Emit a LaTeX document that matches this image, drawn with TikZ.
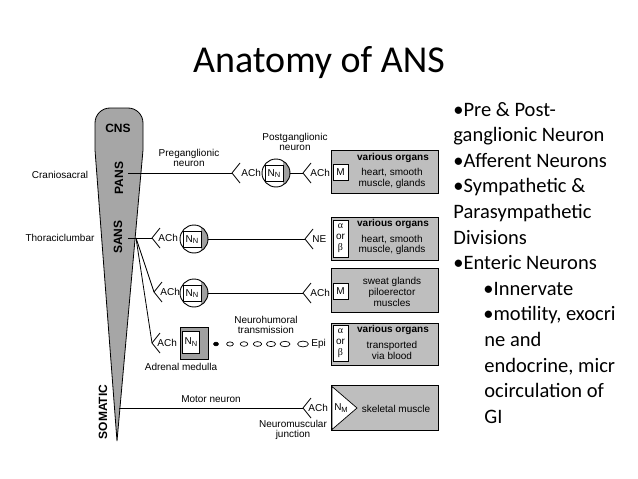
\documentclass[tikz,border=0pt]{standalone}
\usepackage{fontspec}
\setmainfont{Liberation Sans}
\newfontfamily\calfont{Carlito}
\newfontfamily\grkfont{Liberation Serif}
\definecolor{colgray}{RGB}{166,166,166}
\definecolor{boxgray}{RGB}{190,190,190}
\definecolor{gangray}{RGB}{160,160,160}
\newcommand\subN[1]{N\raisebox{-1.6pt}{\fontsize{7.5}{7.5}\selectfont #1}}
\newcommand\gangdraw[3]{% name, x, y
  \coordinate (#1) at (#2,#3);
  \fill[gangray] (#2,#3) ellipse (14 and 14);
  \begin{scope}
    \clip (#2,#3) ellipse (14 and 14);
    \fill[white] (#2-15,#3-15) rectangle (#2+7,#3+15);
  \end{scope}
  \draw[line width=0.7pt] (#2-11,#3-8) rectangle (#2+7,#3+8);
  \draw[line width=0.9pt] (#2,#3) ellipse (14 and 14);
  \coordinate (#1e) at (#2+14,#3);
  \node[inner sep=0pt,font=\fontsize{10}{10}\selectfont] (#1n) at (#2-2,#3+0.5) {\subN{N}};
}
\begin{document}
\begin{tikzpicture}[x=1pt,y=-1pt,line width=0.8pt,
  lab/.style={font=\fontsize{10}{10.8}\selectfont,inner sep=0pt,align=center},
  collab/.style={font=\bfseries\fontsize{12}{12}\selectfont,inner sep=0pt},
  organ/.style={draw,fill=boxgray,line width=0.9pt,inner sep=0pt,minimum width=107pt,anchor=north west},
  rcp/.style={draw,fill=white,line width=0.7pt,inner sep=0pt,minimum width=15pt,align=center,font=\fontsize{10}{11}\selectfont},
  bul/.style={font=\calfont\fontsize{20.5}{20.5}\selectfont,anchor=base west,inner sep=0pt},
  fork/.pic={\draw (0,0) -- (8,-10) (0,0) -- (8,10);}]
\useasboundingbox (0,0) rectangle (638,479);

% title
\node[font=\calfont\fontsize{38}{38}\selectfont,anchor=base,inner sep=0pt] (title) at (319,72) {Anatomy of ANS};

% right text
\node[bul] (t0) at (453,116) {•Pre \& Post-};
\node[bul] (t1) at (453,141.6) {ganglionic Neuron};
\node[bul] (t2) at (453,167.2) {•Afferent Neurons};
\node[bul] (t3) at (453,192.8) {•Sympathetic \&};
\node[bul] (t4) at (453,218.4) {Parasympathetic};
\node[bul] (t5) at (453,244) {Divisions};
\node[bul] (t6) at (453,269.6) {•Enteric Neurons};
\node[bul] (t7) at (483,295.2) {•Innervate};
\node[bul] (t8) at (483,320.8) {•motility, exocri};
\node[bul] (t9) at (484,346.4) {ne and};
\node[bul] (t10) at (484,372) {endocrine, micr};
\node[bul] (t11) at (484,397.6) {ocirculation of};
\node[bul] (t12) at (484,423.2) {GI};

% CNS column
\draw[fill=colgray] (117,441) -- (95,150) -- (95,123) to[out=90,in=180] (110,108) -- (128,108) to[out=0,in=90] (143,123) -- (143,150) -- cycle;
\node[collab] (cns) at (118,128) {CNS};
\node[collab,rotate=90] (pans) at (119,178) {PANS};
\node[collab,rotate=90] (sans) at (118,237) {SANS};
\node[collab,rotate=90] (som) at (103,412) {SOMATIC};
\node[lab] (cran) at (60,175) {Craniosacral};
\node[lab] (thor) at (60,238) {Thoraciclumbar};

% ---------- row 1 (parasympathetic)
\coordinate (p1) at (128,173);
\coordinate (f1) at (232,173);
\draw (p1) -- (f1);
\pic at (f1) {fork};
\node[lab,anchor=west] (a1) at (241,173) {ACh};
\gangdraw{g1}{276}{173}
\coordinate (q1) at (303,173);
\draw (g1e) -- (q1);
\pic at (q1) {fork};
\node[lab,anchor=west] (b1) at (310,173) {ACh};
\node[organ,minimum height=43pt] (o1) at (331,150) {};
\node[rcp,minimum height=16pt] (m1) at (340.5,172) {M};
\node[lab,font=\bfseries\fontsize{10}{10}\selectfont] (o1a) at (393,158) {various organs};
\node[lab] (o1b) at (392,178.5) {heart, smooth\\muscle, glands};
\node[lab] (pre) at (189,158) {Preganglionic\\neuron};
\node[lab] (post) at (295,142) {Postganglionic\\neuron};

% ---------- SANS branches
\coordinate (p2) at (128,238);
\coordinate (br) at (136,238);
\coordinate (f2) at (152,238);
\coordinate (f3) at (154,292);
\coordinate (f4) at (152,343);
\draw (p2) -- (f2);
\draw (br) -- (f3);
\draw (br) -- (f4);

% ---------- row 2
\pic at (f2) {fork};
\node[lab,anchor=west] (a2) at (158,238) {ACh};
\gangdraw{g2}{194}{239}
\coordinate (q2) at (305,239);
\draw (g2e) -- (q2);
\pic at (q2) {fork};
\node[lab,anchor=west] (b2) at (312,239) {NE};
\node[organ,minimum height=43pt] (o2) at (331,217) {};
\node[rcp,minimum height=37pt] (r2) at (340.5,238.5) {{\grkfont α}\\or\\{\grkfont β}};
\node[lab,font=\bfseries\fontsize{10}{10}\selectfont] (o2a) at (393,224) {various organs};
\node[lab] (o2b) at (392,245) {heart, smooth\\muscle, glands};

% ---------- row 3
\pic at (f3) {fork};
\node[lab,anchor=west] (a3) at (160,292) {ACh};
\gangdraw{g3}{194}{293}
\coordinate (q3) at (303,293);
\draw (g3e) -- (q3);
\pic at (q3) {fork};
\node[lab,anchor=west] (b3) at (310,293) {ACh};
\node[organ,minimum height=44pt] (o3) at (331,268) {};
\node[rcp,minimum height=16pt] (m3) at (340.5,291) {M};
\node[lab] (o3a) at (392,292) {sweat glands\\piloerector\\muscles};

% ---------- row 4 (adrenal)
\pic at (f4) {fork};
\node[lab,anchor=west] (a4) at (157,343) {ACh};
\node[draw,fill=gangray,inner sep=0pt,minimum width=28pt,minimum height=32pt,anchor=north west] (adr) at (180,327) {};
\node[draw,fill=white,inner sep=0pt,minimum width=17pt,minimum height=22pt,anchor=north west,line width=0.7pt] (adri) at (182,331) {};
\node[inner sep=0pt,font=\fontsize{10}{10}\selectfont] (adrn) at (adri.center) {\subN{N}};
\node[lab] (adml) at (181,367) {Adrenal medulla};
\begin{scope}[line width=0.7pt]
\draw[fill=black] (216,344) ellipse (2.4 and 1.8);
\draw (230,344) ellipse (3.4 and 2.1);
\draw (244,344) ellipse (3.8 and 2.3);
\draw (257.5,344) ellipse (4.2 and 2.4);
\draw (271,344) ellipse (4.6 and 2.6);
\draw (285,344) ellipse (5 and 2.7);
\draw (303,344) ellipse (5.4 and 2.9);
\end{scope}
\node[lab,anchor=west] (epi) at (311,344) {Epi};
\node[lab] (nh) at (266,325) {Neurohumoral\\transmission};
\node[organ,minimum height=42pt] (o4) at (331,323) {};
\node[rcp,minimum height=36pt] (r4) at (340.5,343) {{\grkfont α}\\or\\{\grkfont β}};
\node[lab,font=\bfseries\fontsize{10}{10}\selectfont] (o4a) at (393,330) {various organs};
\node[lab] (o4b) at (392,350.5) {transported\\via blood};

% ---------- row 5 (somatic)
\coordinate (p5) at (119,408);
\coordinate (f5) at (303,408);
\draw (p5) -- (f5);
\pic at (f5) {fork};
\node[lab,anchor=west] (a5) at (308,408) {ACh};
\node[lab] (mn) at (211,399) {Motor neuron};
\node[lab] (nmj) at (293,430) {Neuromuscular\\junction};
\node[organ,minimum height=45pt] (o5) at (331,385) {};
\draw[fill=white,line width=0.7pt] (332,386.5) -- (357,408) -- (332,429.5) -- cycle;
\node[inner sep=0pt,font=\fontsize{10}{10}\selectfont] (nm) at (341,408) {\subN{M}};
\node[lab] (skm) at (396,409) {skeletal muscle};
\end{tikzpicture}
\end{document}
